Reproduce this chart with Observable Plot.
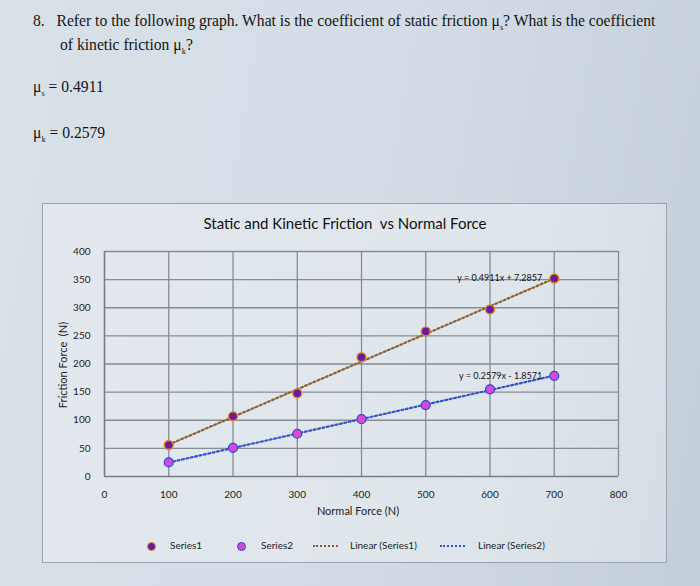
<!DOCTYPE html>
<html>
<head>
<meta charset="utf-8">
<script src="https://cdn.jsdelivr.net/npm/d3@7"></script>
<script src="https://cdn.jsdelivr.net/npm/@observablehq/plot@0.6"></script>
<style>
  html, body { margin: 0; padding: 0; }
  body {
    width: 700px; height: 586px; position: relative; overflow: hidden;
    background: linear-gradient(100deg, #d9e1e8 0%, #d3dce5 55%, #c4ced8 100%);
  }
  .q { position: absolute; font-family: "Liberation Serif", serif; font-size: 17px; color: #151515;
       transform: scaleX(0.92); transform-origin: left top; white-space: nowrap; }
  .box { position: absolute; left: 42px; top: 203px; width: 623px; height: 358px;
         border: 1px solid #9aa4ad; background: linear-gradient(100deg, #e2e8ed 0%, #dfe6eb 70%, #d5dde4 100%); }
  .title { position: absolute; left: 40px; top: 214px; width: 610px; text-align: center;
           font-family: Lato, sans-serif; font-size: 15px; color: #111; white-space: pre; }
  #chart { position: absolute; left: 40px; top: 240px; }
  .ylab { position: absolute; left: 62px; top: 365px; transform: translate(-50%, -50%) rotate(-90deg);
          font-family: Lato, sans-serif; font-size: 11px; color: #222; white-space: nowrap; }
  .xlab { position: absolute; left: 358px; top: 510px; transform: translate(-50%, -50%);
          font-family: Lato, sans-serif; font-size: 11px; color: #222; white-space: nowrap; }
  .leg { position: absolute; top: 539px; font-family: Lato, sans-serif; font-size: 10px; color: #222; white-space: nowrap; }
  .dot { position: absolute; top: 542px; width: 7px; height: 7px; border-radius: 50%; }
  .dash { position: absolute; top: 545px; height: 0; width: 25px; border-top: 2px dotted; }
</style>
</head>
<body>
<div class="q" id="q1" style="left:33px; top:11px;">8.&nbsp;&nbsp; Refer to the following graph. What is the coefficient of static friction μ<sub style="font-size:9px">s</sub>? What is the coefficient</div>
<div class="q" id="q2" style="left:60px; top:35px;">of kinetic friction μ<sub style="font-size:9px">k</sub>?</div>
<div class="q" style="left:33px; top:77px;">μ<sub style="font-size:9px">s</sub> = 0.4911</div>
<div class="q" style="left:33px; top:123px;">μ<sub style="font-size:9px">k</sub> = 0.2579</div>

<div class="box"></div>
<div class="title">Static and Kinetic Friction  vs Normal Force</div>
<div id="chart"></div>
<div class="ylab">Friction Force&nbsp; (N)</div>
<div class="xlab">Normal Force (N)</div>

<div class="dot" style="left:147px; background:#6a1b9a; border:1.5px solid #e0892a;"></div>
<div class="leg" style="left:170px;">Series1</div>
<div class="dot" style="left:237px; background:#d64ad0; border:1.5px solid #2a45e6;"></div>
<div class="leg" style="left:261px;">Series2</div>
<div class="dash" style="left:313px; border-color:#8a6238;"></div>
<div class="leg" style="left:350px;">Linear (Series1)</div>
<div class="dash" style="left:440px; border-color:#3355d0;"></div>
<div class="leg" style="left:478px;">Linear (Series2)</div>

<script>
// ---- data ----
const normalForce = [100, 200, 300, 400, 500, 600, 700];
const staticFriction = [56, 107, 148, 212, 258, 297, 352];   // Series1
const kineticFriction = [25, 51, 76, 102, 127, 155, 179];    // Series2
const xTicks = [0, 100, 200, 300, 400, 500, 600, 700, 800];
const yTicks = [0, 50, 100, 150, 200, 250, 300, 350, 400];
const equations = ["y = 0.4911x + 7.2857", "y = 0.2579x - 1.8571"];

const s1 = normalForce.map((x, i) => ({x, y: staticFriction[i]}));
const s2 = normalForce.map((x, i) => ({x, y: kineticFriction[i]}));
const last1 = [{...s1[s1.length - 1], label: equations[0]}];
const last2 = [{...s2[s2.length - 1], label: equations[1]}];

const gridColor = "#868d94";

const chart = Plot.plot({
  width: 600,
  height: 280,
  marginLeft: 64,
  marginRight: 22,
  marginTop: 11,
  marginBottom: 44,
  style: {background: "transparent", fontFamily: "Lato, sans-serif", fontSize: "10px", color: "#222", overflow: "visible"},
  x: {domain: [0, 800], label: null},
  y: {domain: [0, 400], label: null},
  marks: [
    Plot.ruleY(yTicks.slice(1), {stroke: gridColor, strokeWidth: 1.3}),
    Plot.ruleX(xTicks.slice(1), {stroke: gridColor, strokeWidth: 1.3}),
    Plot.ruleY([0], {stroke: "#767d84", strokeWidth: 1.6}),
    Plot.ruleX([0], {stroke: "#767d84", strokeWidth: 1.6}),
    Plot.axisX({ticks: xTicks, tickSize: 0, tickPadding: 14, label: null, tickFormat: d => String(d)}),
    Plot.axisY({ticks: yTicks, tickSize: 0, tickPadding: 14, label: null, tickFormat: d => String(d)}),
    Plot.linearRegressionY(s1, {x: "x", y: "y", ci: 0, stroke: "#8a6238", strokeWidth: 2.2, strokeDasharray: "2,2.5"}),
    Plot.linearRegressionY(s2, {x: "x", y: "y", ci: 0, stroke: "#3355d0", strokeWidth: 2.2, strokeDasharray: "2,2.5"}),
    Plot.dot(s1, {x: "x", y: "y", r: 4.5, fill: "#6a1b9a", stroke: "#e0892a", strokeWidth: 1.4}),
    Plot.dot(s2, {x: "x", y: "y", r: 4.5, fill: "#d64ad0", stroke: "#2a45e6", strokeWidth: 1.2}),
    Plot.text(last1, {x: "x", y: "y", text: "label", textAnchor: "end", dx: -12, fontSize: 9, fill: "#111"}),
    Plot.text(last2, {x: "x", y: "y", text: "label", textAnchor: "end", dx: -12, fontSize: 9, fill: "#111"})
  ]
});
document.getElementById("chart").appendChild(chart);
</script>
</body>
</html>
